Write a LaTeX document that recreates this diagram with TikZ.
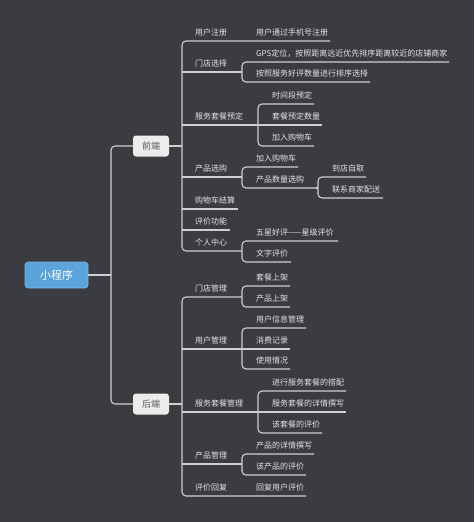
\documentclass[tikz,border=0pt]{standalone}
\usepackage{fontspec}
\setmainfont{Noto Sans CJK SC}
\definecolor{bgc}{HTML}{3B3C40}
\definecolor{linec}{HTML}{CFCFCF}
\definecolor{txtc}{HTML}{E4E4E4}
\definecolor{rootc}{HTML}{5AA4DB}
\definecolor{boxc}{HTML}{ECECEC}
\definecolor{boxtxt}{HTML}{5A5A5A}
\begin{document}
\begin{tikzpicture}[x=1pt,y=-1pt,
  topic/.style={anchor=base west,inner sep=0pt,yshift=5.5pt,text=txtc,font=\fontsize{8}{9}\selectfont},
  conn/.style={draw=linec,line width=1.1pt,rounded corners=4pt},
  rootbox/.style={fill=rootc,draw=rootc!80!white,line width=0.6pt,rounded corners=3pt,minimum width=63pt,minimum height=26pt,inner sep=0pt,text=white,font=\fontsize{11}{12}\selectfont},
  subbox/.style={fill=boxc,rounded corners=3pt,minimum width=36pt,minimum height=21pt,inner sep=0pt,text=boxtxt,font=\fontsize{9}{10}\selectfont}]
\fill[bgc] (0,0) rectangle (474,522);
\useasboundingbox (0,0) rectangle (474,522);

% root and level-1 boxes
\node[rootbox] (root) at (56.5,275) {小程序};
\node[subbox] (fe) at (151,146) {前端};
\node[subbox] (be) at (151,404) {后端};
\coordinate (trunk) at (111,275);
\draw[conn] (root.east) -- (trunk);
\draw[conn] (fe.west) -- (111,146) -- (111,404) -- (be.west);
\draw[conn] (fe.east) -- (182,146);
\draw[conn] (be.east) -- (182,404);

% ===== front-end =====
\node[topic] (f1) at (195,41) {用户注册};
\node[topic] (f1a) at (256,41) {用户通过手机号注册};
\node[topic] (f2) at (195,72) {门店选择};
\node[topic] (f2a) at (256,62) {GPS定位，按照距离远近优先排序距离较近的店铺商家};
\node[topic] (f2b) at (256,82) {按照服务好评数量进行排序选择};
\node[topic] (f3) at (195,125) {服务套餐预定};
\node[topic] (f3a) at (272,104) {时间段预定};
\node[topic] (f3b) at (272,125) {套餐预定数量};
\node[topic] (f3c) at (272,146) {加入购物车};
\node[topic] (f4) at (195,177) {产品选购};
\node[topic] (f4a) at (256,167) {加入购物车};
\node[topic] (f4b) at (256,188) {产品数量选购};
\node[topic] (f4b1) at (332,177) {到店自取};
\node[topic] (f4b2) at (332,198) {联系商家配送};
\node[topic] (f5) at (195,209) {购物车结算};
\node[topic] (f6) at (195,230) {评价功能};
\node[topic] (f7) at (195,251) {个人中心};
\node[topic] (f7a) at (256,241) {五星好评——星级评价};
\node[topic] (f7b) at (256,262) {文字评价};

\draw[conn] (330,41) -- (182,41) -- (182,251) -- (242,251);
\draw[conn] (182,72) -- (242,72);
\draw[conn] (182,125) -- (258,125);
\draw[conn] (182,177) -- (242,177);
\draw[conn] (182,209) -- (238,209);
\draw[conn] (182,230) -- (230,230);

\draw[conn] (449,62) -- (242,62) -- (242,82) -- (370,82);
\draw[conn] (314,104) -- (258,104) -- (258,146) -- (314,146);
\draw[conn] (258,125) -- (322,125);
\draw[conn] (298,167) -- (242,167) -- (242,188) -- (316,188);
\draw[conn] (316,188) -- (318,188);
\draw[conn] (366,177) -- (318,177) -- (318,198) -- (383,198);
\draw[conn] (338,241) -- (242,241) -- (242,262) -- (291,262);

% ===== back-end =====
\node[topic] (b1) at (195,297) {门店管理};
\node[topic] (b1a) at (256,286) {套餐上架};
\node[topic] (b1b) at (256,307) {产品上架};
\node[topic] (b2) at (195,349) {用户管理};
\node[topic] (b2a) at (256,328) {用户信息管理};
\node[topic] (b2b) at (256,349) {消费记录};
\node[topic] (b2c) at (256,369) {使用情况};
\node[topic] (b3) at (195,412) {服务套餐管理};
\node[topic] (b3a) at (272,391) {进行服务套餐的搭配};
\node[topic] (b3b) at (272,412) {服务套餐的详情撰写};
\node[topic] (b3c) at (272,433) {该套餐的评价};
\node[topic] (b4) at (195,464) {产品管理};
\node[topic] (b4a) at (256,454) {产品的详情撰写};
\node[topic] (b4b) at (256,475) {该产品的评价};
\node[topic] (b5) at (195,496) {评价回复};
\node[topic] (b5a) at (256,496) {回复用户评价};

\draw[conn] (242,297) -- (182,297) -- (182,496) -- (306,496);
\draw[conn] (182,349) -- (242,349);
\draw[conn] (182,412) -- (258,412);
\draw[conn] (182,464) -- (242,464);

\draw[conn] (290,286) -- (242,286) -- (242,307) -- (290,307);
\draw[conn] (306,328) -- (242,328) -- (242,369) -- (290,369);
\draw[conn] (242,349) -- (290,349);
\draw[conn] (346,391) -- (258,391) -- (258,433) -- (322,433);
\draw[conn] (258,412) -- (346,412);
\draw[conn] (314,454) -- (242,454) -- (242,475) -- (306,475);
\end{tikzpicture}
\end{document}
